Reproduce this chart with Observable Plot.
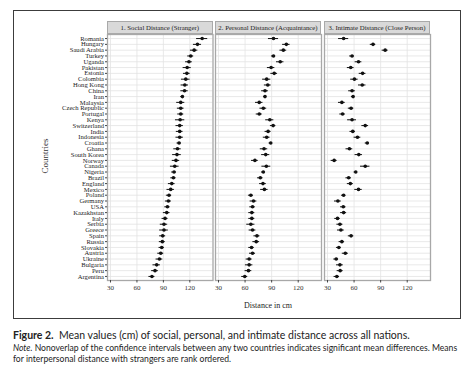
<!DOCTYPE html>
<html><head><meta charset="utf-8">
<script src="https://cdn.jsdelivr.net/npm/d3@7"></script>
<script src="https://cdn.jsdelivr.net/npm/@observablehq/plot@0.6"></script>
<style>
html,body{margin:0;padding:0;background:#fff;}
#page{position:relative;width:474px;height:376px;overflow:hidden;font-family:"Liberation Serif",serif;}
.frame{position:absolute;left:13px;top:10px;width:448px;height:309px;box-sizing:border-box;border:1.5px solid #3c3c3c;}
.strip{position:absolute;top:20.5px;height:13.5px;box-sizing:border-box;background:#d9d9d9;border:1px solid #a9a9a9;font-size:6.8px;color:#222;text-align:center;line-height:12px;white-space:nowrap;overflow:hidden;}
.panel{position:absolute;top:33px;}
.panel svg{background:transparent !important;overflow:visible;}
#ylab{position:absolute;left:45px;top:156px;transform:translate(-50%,-50%) rotate(-90deg);font-size:9px;color:#333;white-space:nowrap;}
#xlab{position:absolute;left:268px;top:305px;transform:translate(-50%,-50%);font-size:8px;color:#222;white-space:nowrap;}
.cap{position:absolute;left:13px;font-family:Lato,sans-serif;color:#222;white-space:nowrap;}
</style></head><body><div id="page">
<div class="frame"></div>
<div id="ylab">Countries</div>
<div id="xlab">Distance in cm</div>
<div class="cap" style="top:329px;font-size:10.5px;"><b>Figure 2.</b>&nbsp; Mean values (cm) of social, personal, and intimate distance across all nations.</div>
<div class="cap" style="top:343px;font-size:8.6px;line-height:11px;"><i>Note.</i> Nonoverlap of the confidence intervals between any two countries indicates significant mean differences. Means<br>for interpersonal distance with strangers are rank ordered.</div>
</div>
<script>
const countries = ["Romania","Hungary","Saudi Arabia","Turkey","Uganda","Pakistan","Estonia","Colombia","Hong Kong","China","Iran","Malaysia","Czech Republic","Portugal","Kenya","Switzerland","India","Indonesia","Croatia","Ghana","South Korea","Norway","Canada","Nigeria","Brazil","England","Mexico","Poland","Germany","USA","Kazakhstan","Italy","Serbia","Greece","Spain","Russia","Slovakia","Austria","Ukraine","Bulgaria","Peru","Argentina"];

const panelTitles = ["1. Social Distance (Stranger)","2. Personal Distance (Acquaintance)","3. Intimate Distance (Close Person)"];

const social = [134,128.7,124.9,121,119,117,116.6,115.4,114.3,114,111.6,109.7,109.7,109.7,109,108.5,108.5,108.5,107.8,106,105.4,104.3,102.9,102.1,101.4,99.5,98.3,96.4,95.7,94.6,93.8,91.9,90.7,90.7,89.2,88.8,88.1,87,85.5,82.4,80.5,77];
const socialCI = [6.3,4.6,4.2,3.4,3.8,4.6,3.8,4.9,4.2,4.2,1.9,4.6,3.8,3.4,5.3,4.2,3.8,4.2,2.3,4.2,4.9,4.2,4.9,2.7,3,3.8,4.2,3,3.4,3,3.8,3.4,4.2,4.9,3.4,3.4,3,3.4,3.8,4.2,3.8,3.4];

const personal = [92.1,106.6,103.2,92.1,99.7,89.4,92.9,84.4,85.6,82.5,82.5,76,80.6,76,87.9,91.7,86,84.4,89,81.4,83.3,71.1,84,80.6,77.2,80.2,81.8,66.5,69.5,68.4,67.6,67.6,66.5,68.4,73.4,72.6,67.3,68.4,64.6,64.6,63.8,59.6];
const personalCI = [5.7,4.2,3.8,2.3,4.2,4.2,3.8,4.6,3.8,3.8,1.5,4.2,3.8,3.4,4.6,3.1,3.4,3.8,1.9,4.2,4.6,3.8,5,1.9,3.1,3.8,4.2,2.7,3.8,3.1,3.4,3.4,4.6,3.8,3.4,3.8,3.1,3.4,3.4,4.2,3.8,3.4];

const intimate = [48.2,81.4,95.1,57.7,65,56.2,69.6,60.4,69.2,57.7,58.9,46.2,56.6,47,57.7,72.6,58.5,63.8,74.9,54.7,65.3,37.5,72.6,61.9,53.9,55.8,65,48.2,41.7,47.8,48.2,41.3,44,45.1,56.6,46.2,42.8,50.1,39.8,44,44.3,40.5];
const intimateCI = [5.7,3.1,3.4,2.7,3.8,3.8,3.8,4.2,4.2,3.8,1.9,3.8,3.1,3.1,5,3.8,3.1,3.8,2.3,3.8,4.2,3.4,5.3,1.9,3.1,3.4,4.2,2.3,3.8,3.1,3.4,3.1,3.4,3.8,3.1,3.1,2.7,3.4,2.7,3.8,3.4,3.1];

const xTicks = [30,60,90,120];

const series = [[social, socialCI],[personal, personalCI],[intimate, intimateCI]];
// layout: panel left/right edges in page pixels
const panelEdges = [[107,212.5],[215,321],[324,430]];
const page = document.getElementById("page");

series.forEach(([vals, ci], k) => {
  const rows = countries.map((c, i) => ({country: c, mean: vals[i], lo: vals[i] - ci[i], hi: vals[i] + ci[i]}));
  const [pl, pr] = panelEdges[k];
  const first = k === 0;
  const mL = first ? pl : 2;
  const svgLeft = first ? 0 : pl - 2;
  const width = (pr - pl) + mL + 2;
  const marks = [
    Plot.gridY({stroke: "#e3e3e3", strokeOpacity: 1, strokeWidth: 0.8}),
    Plot.gridX(xTicks, {stroke: "#e3e3e3", strokeOpacity: 1, strokeWidth: 0.8}),
    Plot.frame({stroke: "#a8a8a8", strokeWidth: 1.3}),
    Plot.axisX(xTicks, {tickSize: 2.5, tickPadding: 2, label: null, stroke: "#444", fill: "#333", fontSize: 7}),
    Plot.ruleY(rows, {y: "country", x1: "lo", x2: "hi", stroke: "#111", strokeWidth: 1}),
    Plot.dot(rows, {y: "country", x: "mean", r: 1.8, fill: "#111", stroke: null})
  ];
  if (first) marks.push(Plot.axisY({tickSize: 2, tickPadding: 1.5, label: null, stroke: "#444", fill: "#222", fontSize: 6.6}));
  const chart = Plot.plot({
    width, height: 261,
    marginTop: 1, marginBottom: 14, marginLeft: mL, marginRight: 2,
    style: {background: "transparent", fontFamily: "Liberation Serif, serif", fontSize: "7px", color: "#333", overflow: "visible"},
    x: {domain: [26.6, 146.3]},
    y: {domain: countries, type: "point", padding: 0.7, axis: first ? undefined : null},
    marks
  });
  const wrap = document.createElement("div");
  wrap.className = "panel";
  wrap.style.left = svgLeft + "px";
  wrap.appendChild(chart);
  page.appendChild(wrap);

  const strip = document.createElement("div");
  strip.className = "strip";
  strip.style.left = pl + "px";
  strip.style.width = (pr - pl) + "px";
  strip.textContent = panelTitles[k];
  page.appendChild(strip);
});
</script>
</body></html>
